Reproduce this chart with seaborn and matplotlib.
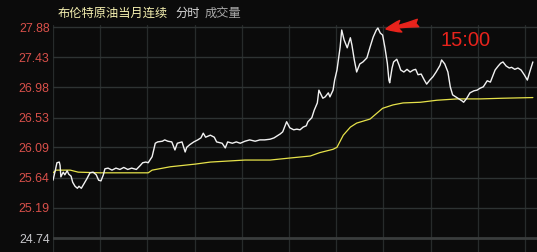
import matplotlib
matplotlib.use("Agg")
import matplotlib.pyplot as plt
import seaborn as sns
import pandas as pd

# ---- data (minutes from session start, price) ----
price_minutes = [0, 3, 5, 8, 9, 10, 13, 15, 18, 20, 23, 25, 28, 31, 33, 36, 39, 43, 47, 51,
                 55, 58, 61, 64, 66, 70, 75, 80, 85, 90, 95, 100, 106, 111, 114, 118, 121, 126, 130, 133,
                 139, 142, 146, 151, 155, 158, 164, 168, 170, 174, 179, 184, 188, 191, 194, 200, 205, 208, 215, 219,
                 222, 228, 233, 238, 244, 250, 257, 263, 269, 276, 281, 285, 289, 292, 297, 301, 306, 310, 314, 318,
                 322, 324, 329, 332, 336, 338, 341, 343, 346, 350, 352, 356, 358, 361, 365, 367, 370, 374, 378, 380,
                 383, 386, 390, 394, 399, 403, 407, 411, 413, 416, 419, 422, 425, 427, 428, 431, 433, 437, 440, 442,
                 446, 450, 454, 458, 461, 464, 468, 472, 475, 479, 483, 487, 492, 494, 498, 502, 505, 508, 512, 516,
                 520, 522, 526, 530, 535, 539, 543, 547, 552, 556, 559, 562, 566, 569, 572, 576, 580, 583, 587, 591,
                 595, 599, 603, 606, 610]
price_values = [25.60, 25.75, 25.86, 25.87, 25.82, 25.65, 25.72, 25.68, 25.74, 25.69, 25.66, 25.57, 25.51, 25.48, 25.51, 25.48, 25.54, 25.62, 25.71, 25.72,
                25.68, 25.60, 25.59, 25.68, 25.77, 25.78, 25.75, 25.78, 25.76, 25.79, 25.76, 25.78, 25.76, 25.82, 25.86, 25.87, 25.86, 25.95, 26.15, 26.17,
                26.18, 26.20, 26.18, 26.17, 26.05, 26.15, 26.17, 26.02, 26.09, 26.13, 26.17, 26.20, 26.23, 26.30, 26.24, 26.27, 26.24, 26.17, 26.15, 26.08,
                26.17, 26.15, 26.17, 26.15, 26.18, 26.20, 26.18, 26.20, 26.20, 26.21, 26.23, 26.26, 26.29, 26.32, 26.47, 26.38, 26.35, 26.36, 26.35, 26.39,
                26.41, 26.47, 26.53, 26.64, 26.75, 26.94, 26.87, 26.82, 26.84, 26.90, 26.84, 26.94, 27.09, 27.24, 27.58, 27.835, 27.69, 27.57, 27.72, 27.61,
                27.39, 27.21, 27.33, 27.36, 27.42, 27.58, 27.73, 27.835, 27.865, 27.79, 27.76, 27.57, 27.34, 27.09, 27.05, 27.27, 27.36, 27.40, 27.31, 27.24,
                27.21, 27.25, 27.21, 27.24, 27.25, 27.17, 27.18, 27.09, 27.03, 27.09, 27.14, 27.21, 27.31, 27.39, 27.33, 27.21, 26.99, 26.87, 26.84, 26.81,
                26.78, 26.76, 26.82, 26.90, 26.93, 26.94, 26.97, 26.99, 27.08, 27.06, 27.15, 27.24, 27.30, 27.34, 27.36, 27.30, 27.27, 27.28, 27.25, 27.27,
                27.24, 27.17, 27.09, 27.21, 27.36]

avg_minutes = [0, 4, 22, 32, 60, 121, 126, 149, 181, 200, 244, 276, 301, 327, 339, 356, 361, 369, 378, 386,
               403, 419, 432, 445, 467, 488, 514, 543, 572, 610]
avg_values = [25.71, 25.75, 25.75, 25.72, 25.71, 25.71, 25.75, 25.80, 25.84, 25.87, 25.90, 25.90, 25.93, 25.96, 26.01, 26.06, 26.09, 26.27, 26.39, 26.45,
              26.51, 26.67, 26.72, 26.75, 26.76, 26.79, 26.81, 26.81, 26.82, 26.83]

y_ticks = [27.88, 27.43, 26.98, 26.53, 26.09, 25.64, 25.19, 24.74]
y_tick_labels = ["27.88", "27.43", "26.98", "26.53", "26.09", "25.64", "25.19", "24.74"]
x_grid = [0, 60, 120, 180, 240, 300, 360, 420, 480, 540, 600]

title_main = "布伦特原油当月连续"
title_tab1 = "分时"
title_tab2 = "成交量"
annot_text = "15:00"

# ---- style ----
sns.set_theme(style="dark")
plt.rcParams["font.family"] = ["Liberation Sans", "DejaVu Sans"]
BG = "#0b0b0b"

W, H = 537, 252
fig = plt.figure(figsize=(W / 100, H / 100), dpi=100, facecolor=BG)
ax = fig.add_axes([53 / W, 0, (W - 53) / W, (252 - 25) / H])
ax.set_facecolor(BG)

ppu = 211 / 3.14  # pixels per price unit
ax.set_ylim(24.74 - 14 / ppu, 27.88 + 2 / ppu)
ax.set_xlim(0, (W - 53) * 60 / 47.2)

# grid
for xg in x_grid:
    ax.axvline(xg, color="#272b2b", lw=0.9, zorder=0)
for yt in y_ticks[:-1]:
    ax.axhline(yt, color="#2e3333", lw=1.0, zorder=0)
ax.axhline(y_ticks[-1], color="#3a3d3d", lw=2.0, zorder=0)

df_price = pd.DataFrame({"t": price_minutes, "p": price_values})
df_avg = pd.DataFrame({"t": avg_minutes, "p": avg_values})
sns.lineplot(data=df_avg, x="t", y="p", ax=ax, color="#e6e24a", linewidth=0.9, zorder=2)
sns.lineplot(data=df_price, x="t", y="p", ax=ax, color="#f2f2f2", linewidth=1.0, zorder=3)

ax.set_xlabel("")
ax.set_ylabel("")
ax.set_xticks([])
ax.set_yticks(y_ticks)
ax.set_yticklabels(y_tick_labels)
ax.tick_params(axis="y", length=0, pad=2.5, labelsize=8.9)
for lbl, v in zip(ax.get_yticklabels(), y_ticks):
    lbl.set_color("#c8c8cc" if v == 24.74 else "#d9504a")
for s in ax.spines.values():
    s.set_visible(False)
ax.grid(False)

# title texts
cjk = ["Noto Sans CJK SC", "DejaVu Sans"]
fig.text(58 / W, 1 - 13 / H, title_main, family=cjk, fontsize=8.8, color="#f5f0b0", va="center", ha="left")
fig.text(175 / W, 1 - 13 / H, title_tab1, family=cjk, fontsize=8.8, color="#d8d8d8", va="center", ha="left")
fig.text(205 / W, 1 - 13 / H, title_tab2, family=cjk, fontsize=8.8, color="#a8a8a8", va="center", ha="left")

# annotation: arrow and time
ax.annotate("", xy=(386, H - 29), xytext=(418, H - 23), xycoords="figure pixels", textcoords="figure pixels",
            arrowprops=dict(arrowstyle="fancy,head_length=0.9,head_width=0.7,tail_width=0.45",
                            color="#e8231c", shrinkA=0, shrinkB=0), annotation_clip=False)
fig.text(466 / W, 1 - 40 / H, annot_text, fontsize=14.5, color="#e8231c", ha="center", va="center",
         family=["Liberation Sans", "DejaVu Sans"])

fig.savefig("out.png", dpi=100, facecolor=BG)
